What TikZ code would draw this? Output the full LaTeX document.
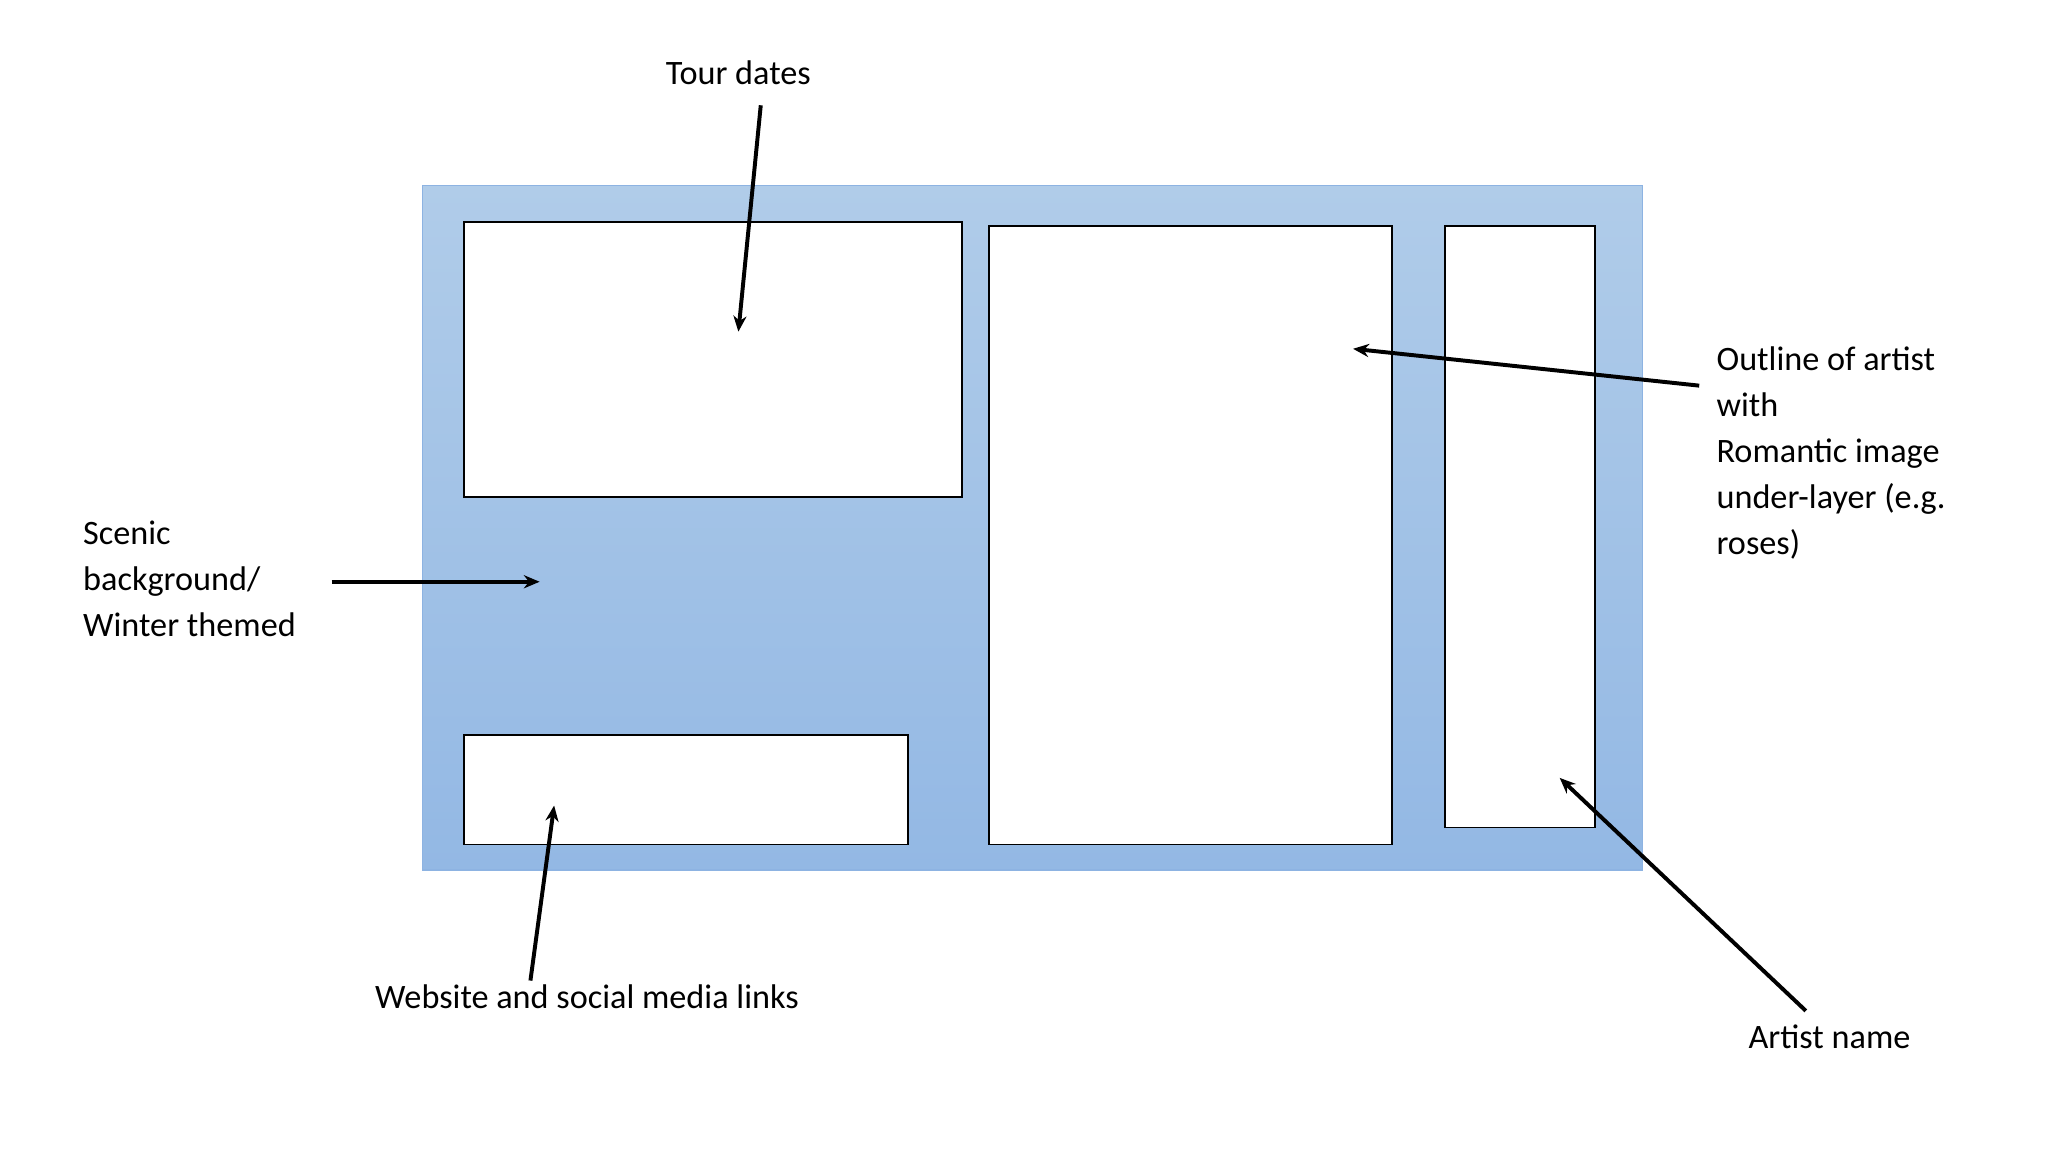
\documentclass[tikz,border=0pt]{standalone}
\usepackage{fontspec}
\setmainfont{Carlito}
\usetikzlibrary{arrows.meta}
\definecolor{bgtop}{HTML}{B0CCE9}
\definecolor{bgbot}{HTML}{93B8E4}
\definecolor{bgedge}{HTML}{8DB3E2}
\tikzset{
  panel/.style={draw=black, line width=1.3pt, fill=white},
  lbl/.style={font=\fontsize{26}{35}\selectfont, inner sep=0pt, align=left},
  pointer/.style={draw=black, line width=3pt, -{Stealth[length=12pt,width=10pt]}}
}
\begin{document}
\begin{tikzpicture}[x=1pt,y=-1pt]
\useasboundingbox (0,0) rectangle (1556,875);
\shade[top color=bgtop, bottom color=bgbot, draw=bgedge, line width=1pt] (321,141) rectangle (1248,661);
\node[panel, minimum width=378, minimum height=209, anchor=north west] (tour) at (352,168) {};
\node[panel, minimum width=306, minimum height=470, anchor=north west] (outline) at (751,171) {};
\node[panel, minimum width=114, minimum height=457, anchor=north west] (namebox) at (1097,171) {};
\node[panel, minimum width=337, minimum height=83, anchor=north west] (web) at (352,558) {};
\node[lbl] (tt) at (561,55) {Tour dates};
\node[lbl, anchor=west] (st) at (63,440) {Scenic\\background/\\Winter themed};
\node[lbl, anchor=north west] (ot) at (1304,263) {Outline of artist\\with\\Romantic image\\under-layer (e.g.\\roses)};
\node[lbl] (wt) at (446,757) {Website and social media links};
\node[lbl] (at) at (1390,788) {Artist name};
\coordinate (t1) at (578,80); \coordinate (t2) at (561,252);
\coordinate (s1) at (252,442); \coordinate (s2) at (410,442);
\coordinate (o1) at (1291,293); \coordinate (o2) at (1028,265);
\coordinate (w1) at (403,745); \coordinate (w2) at (421,612);
\coordinate (a1) at (1372,768); \coordinate (a2) at (1185,591);
\draw[pointer] (t1) -- (t2);
\draw[pointer] (s1) -- (s2);
\draw[pointer] (o1) -- (o2);
\draw[pointer] (w1) -- (w2);
\draw[pointer] (a1) -- (a2);
\end{tikzpicture}
\end{document}
